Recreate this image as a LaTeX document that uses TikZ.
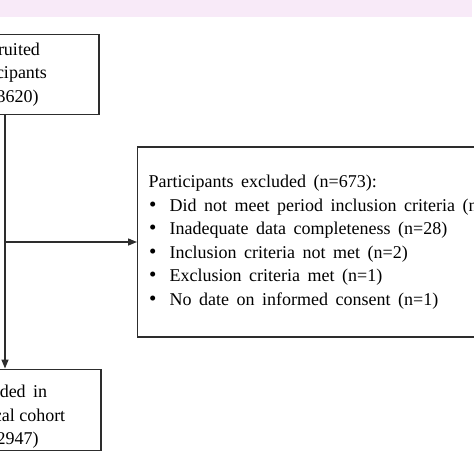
\documentclass[tikz,border=0pt]{standalone}
\usepackage{fontspec}
\setmainfont{Liberation Serif}
\usetikzlibrary{arrows.meta}
\definecolor{bandpink}{RGB}{248,234,248}
\definecolor{linegray}{RGB}{45,45,45}
\newcommand{\widesp}{\spaceskip=7.5pt plus 1pt\relax}
\newcommand{\exclitem}{\makebox[21pt][l]{\hspace{0.5pt}\raisebox{-0.3pt}{\fontsize{21}{21}\selectfont\textbullet}}}
\begin{document}
\begin{tikzpicture}[x=1pt,y=-1pt,
  box/.style={draw=linegray,line width=1.4pt,align=center,inner sep=0pt,
    font=\fontsize{18}{23.5}\selectfont},
  flow/.style={draw=linegray,line width=1.4pt,-{Triangle[length=9pt,width=7pt]}}]
  \useasboundingbox (0,0) rectangle (474,474);
  \fill[bandpink] (0,0) rectangle (472,16.5);
  \node[box,minimum width=188pt,minimum height=79.5pt] (recruited) at (5,74.5)
    {\widesp Recruited\\participants\\(n=3620)};
  \node[box,minimum width=192pt,minimum height=81.5pt] (included) at (5,410)
    {\widesp\rule{0pt}{26pt}Included in\\analytical cohort\\(n=2947)};
  \node[box,align=left,text width=400pt,minimum height=190pt,inner xsep=11pt,
    anchor=west] (excluded) at (137,242)
    {\widesp Participants excluded (n=673):\\
     \exclitem Did not meet period inclusion criteria (n=641)\\
     \exclitem Inadequate data completeness (n=28)\\
     \exclitem Inclusion criteria not met (n=2)\\
     \exclitem Exclusion criteria met (n=1)\\
     \exclitem No date on informed consent (n=1)};
  \coordinate (split) at (5,242);
  \draw[flow] (recruited.south) -- (included.north);
  \draw[flow] (split) -- (excluded.west);
\end{tikzpicture}
\end{document}
